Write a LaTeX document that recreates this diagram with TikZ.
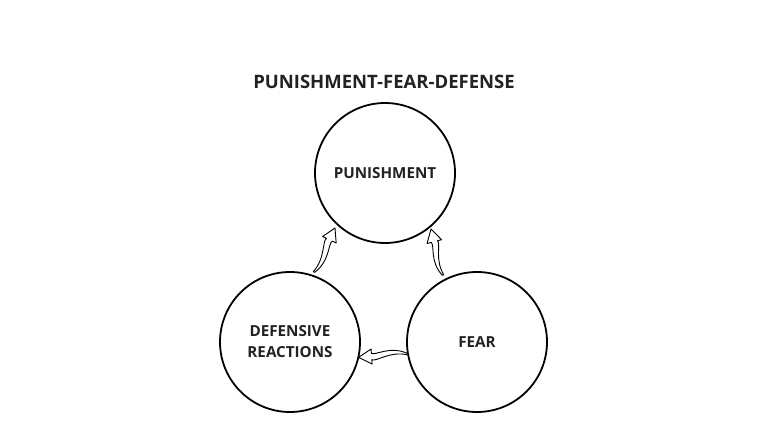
\documentclass[tikz,border=0pt]{standalone}
\usepackage{fontspec}
\setmainfont{Open Sans}[BoldFont={* Bold}]
\definecolor{ink}{HTML}{222222}
\newcommand\hollowarrow[4]{% tail coordinate, angle, length, bend
  \begin{scope}[shift={#1},rotate=#2]
    \pgfmathsetmacro\La{#3}
    \pgfmathsetmacro\Lh{#3-13}
    \pgfmathsetmacro\ca{0.35*#3}
    \pgfmathsetmacro\cb{0.65*#3}
    \pgfmathsetmacro\bu{#4}
    \pgfmathsetmacro\bd{-0.4*#4}
    \filldraw[fill=white,draw=black,line width=0.9pt,line join=round]
      (0,-0.8) .. controls (\ca,\bu-2.6) and (\cb,\bd-3.2) .. (\Lh,-3.2)
      -- (\Lh,-7.5) -- (\La,0) -- (\Lh,7.5) -- (\Lh,3.2)
      .. controls (\cb,\bd+3.2) and (\ca,\bu+2.6) .. (0,0.8) -- cycle;
  \end{scope}}
\begin{document}
\begin{tikzpicture}[x=1pt,y=1pt,
  bubble/.style={circle,draw=black,line width=1.8pt,align=center,text=ink,
    font=\bfseries\fontsize{15.2}{21}\selectfont,inner sep=0pt,minimum size=140pt}]
\path[use as bounding box,fill=white] (0,0) rectangle (762,-430);
\node[font=\bfseries\fontsize{18.5}{22}\selectfont,text=ink] (title) at (384,-82) {PUNISHMENT-FEAR-DEFENSE};
\node[bubble] (pun) at (385,-173) {PUNISHMENT};
\node[bubble] (def) at (290,-342) {DEFENSIVE\\REACTIONS};
\node[bubble] (fear) at (477,-342) {FEAR};
\hollowarrow{(314,-272)}{64.5}{48.75}{-7}
\hollowarrow{(443,-275)}{104.6}{47.5}{7}
\hollowarrow{(407,-354)}{184}{48.5}{-7}
\end{tikzpicture}
\end{document}
